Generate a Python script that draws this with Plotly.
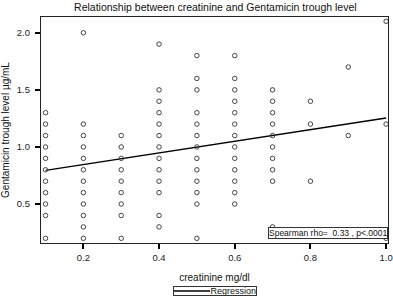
import plotly.graph_objects as go

# Data
creat_01 = [1.3, 1.2, 1.1, 1.0, 0.9, 0.8, 0.7, 0.6, 0.5, 0.4, 0.2]
creat_02 = [2.0, 1.2, 1.1, 1.0, 0.9, 0.8, 0.7, 0.6, 0.5, 0.4, 0.3, 0.2]
creat_03 = [1.1, 1.0, 0.9, 0.8, 0.7, 0.6, 0.5, 0.4, 0.2]
creat_04 = [1.9, 1.5, 1.4, 1.3, 1.2, 1.1, 1.0, 0.9, 0.8, 0.7, 0.6, 0.4, 0.3]
creat_05 = [1.8, 1.6, 1.5, 1.3, 1.2, 1.1, 1.0, 0.9, 0.8, 0.7, 0.6, 0.5, 0.2]
creat_06 = [1.8, 1.6, 1.5, 1.4, 1.3, 1.2, 1.1, 1.0, 0.9, 0.8, 0.7, 0.6, 0.5]
creat_07 = [1.5, 1.4, 1.3, 1.2, 1.1, 1.0, 0.9, 0.8, 0.7, 0.3]
creat_08 = [1.4, 1.2, 0.7]
creat_09 = [1.7, 1.1]
creat_10 = [2.1, 1.2, 0.2]

groups = {0.1: creat_01, 0.2: creat_02, 0.3: creat_03, 0.4: creat_04, 0.5: creat_05,
          0.6: creat_06, 0.7: creat_07, 0.8: creat_08, 0.9: creat_09, 1.0: creat_10}

reg_x = [0.1, 1.0]
reg_y = [0.795, 1.254]

x_ticks = [0.2, 0.4, 0.6, 0.8, 1.0]
y_ticks = [0.5, 1.0, 1.5, 2.0]

xs, ys = [], []
for k, vals in groups.items():
    for v in vals:
        xs.append(k)
        ys.append(v)

fig = go.Figure()
fig.add_trace(go.Scatter(
    x=reg_x, y=reg_y, mode="lines", name="Regression",
    line=dict(color="black", width=1.5), showlegend=False, cliponaxis=False))
fig.add_trace(go.Scatter(
    x=xs, y=ys, mode="markers", showlegend=False, cliponaxis=False,
    marker=dict(symbol="circle-open", size=4.5, color="#444", line=dict(width=1, color="#444"))))

axis_common = dict(showline=True, linecolor="#222", linewidth=1.2, mirror=True,
                   tickmode="array", ticks="outside", ticklen=5, tickwidth=1.5,
                   tickcolor="black", showgrid=False,
                   zeroline=False, tickfont=dict(size=9.5, color="#222"), automargin=False)

fig.update_layout(
    template="none",
    width=393, height=298,
    margin=dict(l=41, r=5, t=17, b=55, autoexpand=False),
    paper_bgcolor="white", plot_bgcolor="white",
    font=dict(family="Liberation Sans, Arial, sans-serif", color="#111"),
    title=dict(text="Relationship between creatinine and Gentamicin trough level",
               x=0.548, xanchor="center", y=0.975, yanchor="middle",
               font=dict(size=10.5, color="#111")),
    xaxis=dict(range=[0.088, 1.005], tickvals=x_ticks, tickformat=".1f",
               title=dict(text="creatinine mg/dl", font=dict(size=10), standoff=12),
               **axis_common),
    yaxis=dict(range=[0.159, 2.138], tickvals=y_ticks, tickformat=".1f",
               ticklabelstandoff=3,
               title=dict(text="Gentamicin trough level µg/mL", font=dict(size=10), standoff=6),
               **axis_common),
    annotations=[
        dict(text="Spearman rho=\u00a0 0.33 , p&lt;.0001", xref="paper", yref="paper",
             x=1.0, y=0.017, xanchor="right", yanchor="bottom", showarrow=False,
             font=dict(size=8.5, color="#111"), bordercolor="#333", borderwidth=1,
             borderpad=0, bgcolor="white"),
        # legend box (text part) for the regression line
        dict(text="Regression", xref="paper", yref="paper",
             x=0.5, y=-0.2146, xanchor="center", yanchor="middle", showarrow=False,
             width=82, height=8, align="right",
             font=dict(size=9, color="#111"), bordercolor="#333", borderwidth=1,
             borderpad=0),
    ],
    shapes=[dict(type="line", xref="paper", yref="paper",
                 x0=0.383, x1=0.487, y0=-0.2124, y1=-0.2124,
                 line=dict(color="black", width=1.5), layer="above")],
)

fig.write_html("out.html", config={"displayModeBar": False},
               post_script="document.body.style.margin='0';document.body.style.overflow='hidden';")
